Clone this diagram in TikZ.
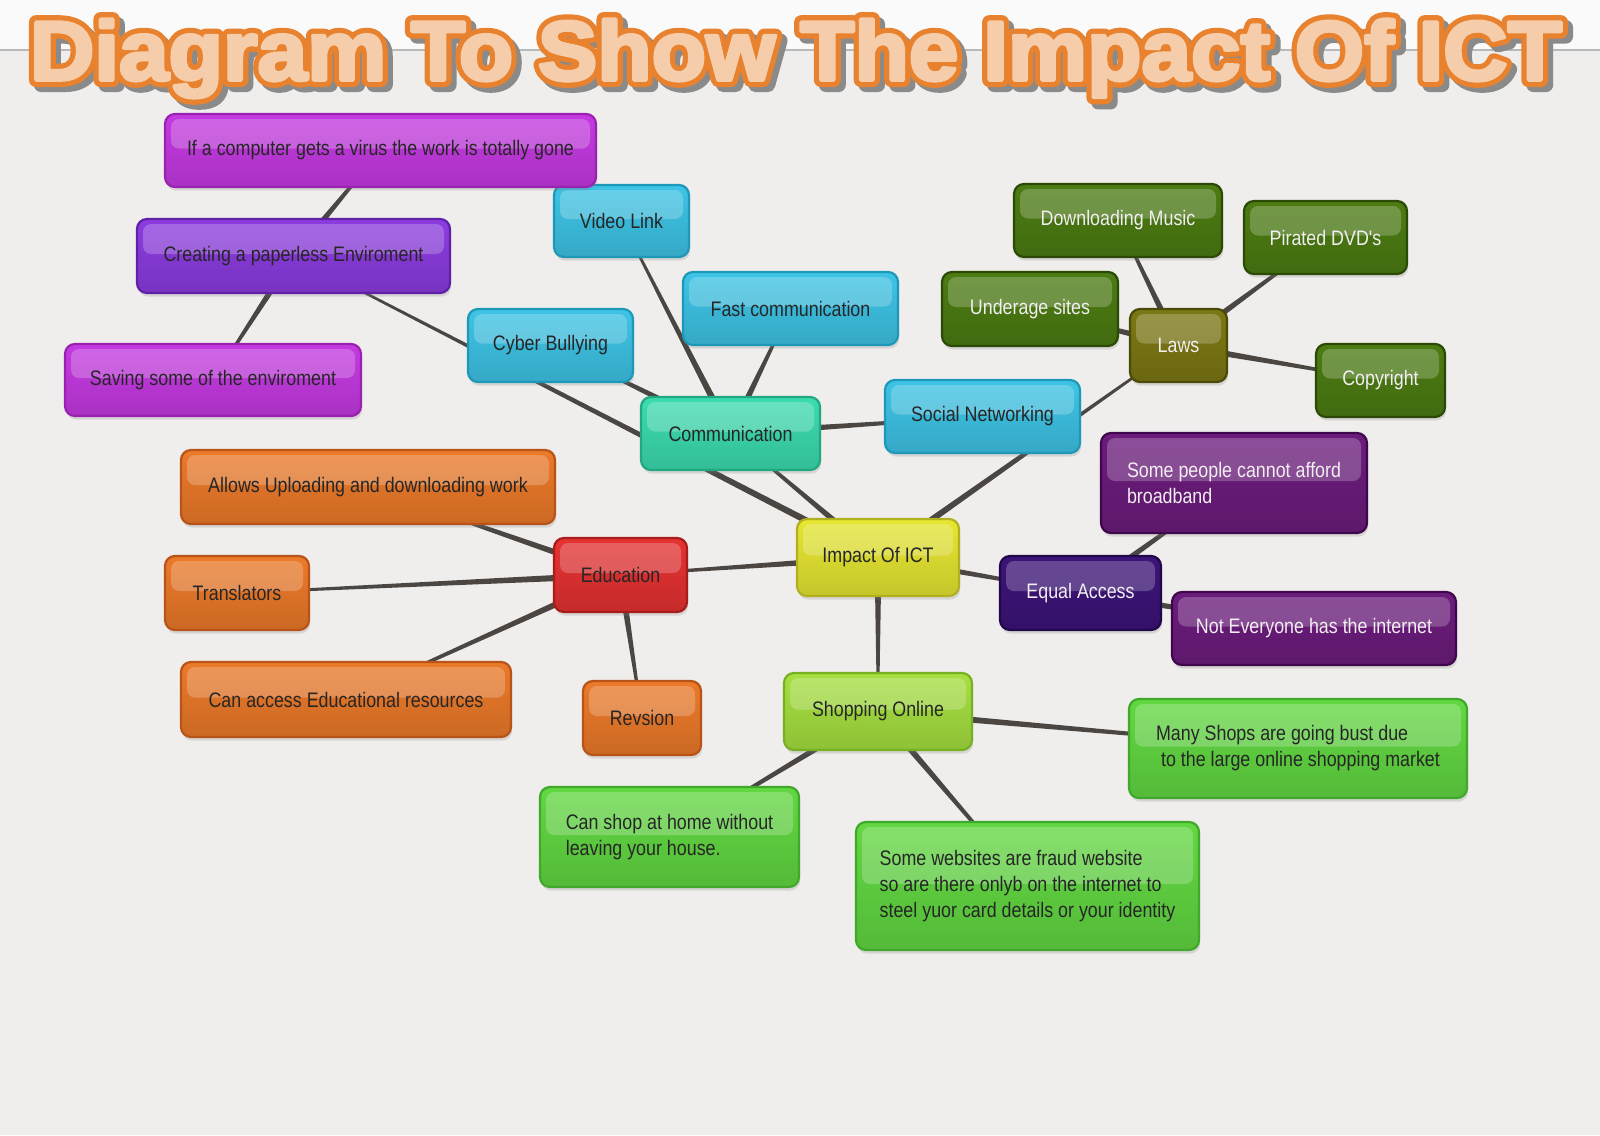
\documentclass[tikz,border=0pt]{standalone}
\usepackage{fontspec}
\usepackage{xcolor}
\usepackage{tikz}
\usetikzlibrary{calc, shadows, backgrounds}
\newfontfamily\nodefont{Liberation Sans}[FakeStretch=0.85]
\newfontfamily\titlefont{Liberation Sans}[FakeStretch=1.06]
\definecolor{paper}{HTML}{EFEEEC}
\definecolor{band}{HTML}{FAFAFA}
\definecolor{link}{HTML}{4B4642}
\definecolor{txtdark}{HTML}{262626}
\definecolor{txtlight}{HTML}{F2EEF2}
\definecolor{mag}{HTML}{C53AE2}
\definecolor{magline}{HTML}{9A22B0}
\definecolor{violet}{HTML}{8C3CE0}
\definecolor{violetline}{HTML}{6020A8}
\definecolor{cyan}{HTML}{3EC4E6}
\definecolor{cyanline}{HTML}{1E98B8}
\definecolor{teal}{HTML}{3CDCB0}
\definecolor{tealline}{HTML}{20A880}
\definecolor{dgreen}{HTML}{4C7C12}
\definecolor{dgreenline}{HTML}{2A4A06}
\definecolor{olive}{HTML}{7C7814}
\definecolor{oliveline}{HTML}{4C4A08}
\definecolor{dpurple}{HTML}{6C1C7C}
\definecolor{dpurpleline}{HTML}{40084C}
\definecolor{indigo}{HTML}{3C1478}
\definecolor{indigoline}{HTML}{20084A}
\definecolor{yell}{HTML}{E6E632}
\definecolor{yellline}{HTML}{B0B020}
\definecolor{orng}{HTML}{EC7A2A}
\definecolor{orngline}{HTML}{B85418}
\definecolor{red}{HTML}{E63232}
\definecolor{redline}{HTML}{A81C1C}
\definecolor{lime}{HTML}{A6E040}
\definecolor{limeline}{HTML}{78B024}
\definecolor{grn}{HTML}{62D842}
\definecolor{grnline}{HTML}{40A82A}
\definecolor{ttlfill}{HTML}{F6CDAA}
\definecolor{ttlorange}{HTML}{E8822E}
\definecolor{ttlshadow}{HTML}{8A8A8A}
% tapered branch, thick at the parent, thin at the child
\newcommand{\branch}[2]{\fill[link] ($(#1)!1.75pt!90:(#2)$) -- ($(#2)!0.5pt!-90:(#1)$)
  -- ($(#2)!0.5pt!90:(#1)$) -- ($(#1)!1.75pt!-90:(#2)$) -- cycle;}
% text filled and stroked: #1 stroke rgb, #2 stroke width (bp)
\newcommand{\outlined}[3]{\special{pdf:literal direct 1 j #2 w #1 RG 2 Tr}#3\special{pdf:literal direct 0 Tr}}
\newcommand{\ttltext}{Diagram To Show The Impact Of ICT}

\begin{document}
\begin{tikzpicture}[x=0.5pt,y=-0.5pt,
  bub/.style n args={3}{rounded corners=5pt,line width=1.1pt,top color=#1,bottom color=#1!86!black,
              draw=#2,text=#3,inner xsep=10pt,align=left,
              font=\nodefont\fontsize{10.5}{13}\selectfont,
              drop shadow={opacity=0.22,shadow xshift=0.6pt,shadow yshift=-1.8pt},
              path picture={\fill[white,opacity=0.22,rounded corners=4pt]
                ([shift={(3pt,-2.5pt)}]path picture bounding box.north west) rectangle
                ([shift={(-3pt,1pt)}]path picture bounding box.east);}},
  magbox/.style={bub={mag}{magline}{txtdark}},
  violetbox/.style={bub={violet}{violetline}{txtdark}},
  cyanbox/.style={bub={cyan}{cyanline}{txtdark}},
  tealbox/.style={bub={teal}{tealline}{txtdark}},
  dgreenbox/.style={bub={dgreen}{dgreenline}{txtlight}},
  olivebox/.style={bub={olive}{oliveline}{txtlight}},
  dpurplebox/.style={bub={dpurple}{dpurpleline}{txtlight}},
  indigobox/.style={bub={indigo}{indigoline}{txtlight}},
  yellbox/.style={bub={yell}{yellline}{txtdark}},
  orngbox/.style={bub={orng}{orngline}{txtdark}},
  redbox/.style={bub={red}{redline}{txtdark}},
  limebox/.style={bub={lime}{limeline}{txtdark}},
  grnbox/.style={bub={grn}{grnline}{txtdark}},
  ttl/.style={font=\titlefont\bfseries\fontsize{42}{46}\selectfont,inner sep=0pt,anchor=base}
]
\useasboundingbox (0,0) rectangle (1600,1135);

% hub
\node[yellbox,minimum width=81pt,minimum height=38.5pt]    (impact)   at (878,557.5)  {Impact Of ICT};
% communication
\node[tealbox,minimum width=89.5pt,minimum height=36.5pt]  (comm)     at (730.5,433.5) {Communication};
\node[cyanbox,minimum width=67.5pt,minimum height=36pt]    (video)    at (621.5,221)  {Video Link};
\node[cyanbox,minimum width=107.5pt,minimum height=36.5pt] (fast)     at (790.5,308.5) {Fast communication};
\node[cyanbox,minimum width=82.5pt,minimum height=36.5pt]  (cyber)    at (550.5,345.5) {Cyber Bullying};
\node[cyanbox,minimum width=97.5pt,minimum height=36.5pt]  (social)   at (982.5,416.5) {Social Networking};
% paperless
\node[violetbox,minimum width=156.5pt,minimum height=37pt] (paperless) at (293.5,256)  {Creating a paperless Enviroment};
\node[magbox,minimum width=215.5pt,minimum height=36.5pt]  (virus)    at (380.5,150.5) {If a computer gets a virus the work is totally gone};
\node[magbox,minimum width=148pt,minimum height=36pt]      (saving)   at (213,380)    {Saving some of the enviroment};
% laws
\node[olivebox,minimum width=48.5pt,minimum height=36.5pt] (laws)     at (1178.5,345.5) {Laws};
\node[dgreenbox,minimum width=104pt,minimum height=36.5pt] (music)    at (1118,220.5) {Downloading Music};
\node[dgreenbox,minimum width=81.5pt,minimum height=36.5pt] (pirated) at (1325.5,237.5) {Pirated DVD's};
\node[dgreenbox,minimum width=88pt,minimum height=37pt]    (underage) at (1030,309)   {Underage sites};
\node[dgreenbox,minimum width=64.5pt,minimum height=36.5pt] (copy)    at (1380.5,380.5) {Copyright};
% equal access
\node[indigobox,minimum width=80.5pt,minimum height=37pt]  (equal)    at (1080.5,593) {Equal Access};
\node[dpurplebox,minimum width=133pt,minimum height=50pt]  (afford)   at (1234,483)   {Some people cannot afford\\broadband};
\node[dpurplebox,minimum width=142pt,minimum height=36.5pt] (notall)  at (1314,628.5) {Not Everyone has the internet};
% education
\node[redbox,minimum width=66.5pt,minimum height=37pt]     (edu)      at (620.5,575)  {Education};
\node[orngbox,minimum width=187pt,minimum height=37pt]     (upload)   at (368,487)    {Allows Uploading and downloading work};
\node[orngbox,minimum width=72pt,minimum height=37pt]      (transl)   at (237,593)    {Translators};
\node[orngbox,minimum width=165pt,minimum height=37.5pt]   (access)   at (346,699.5)  {Can access Educational resources};
\node[orngbox,minimum width=59pt,minimum height=37pt]      (revsion)  at (642,718)    {Revsion};
% shopping
\node[limebox,minimum width=94pt,minimum height=38.5pt]    (shop)     at (878,711.5)  {Shopping Online};
\node[grnbox,minimum width=169pt,minimum height=49.5pt]    (bust)     at (1298,748.5) {Many Shops are going bust due\\\ to the large online shopping market};
\node[grnbox,minimum width=129.5pt,minimum height=50pt]    (home)     at (669.5,837)  {Can shop at home without\\leaving your house.};
\node[grnbox,minimum width=171.5pt,minimum height=64pt]    (fraud)    at (1027.5,886) {Some websites are fraud website\\so are there onlyb on the internet to\\steel yuor card details or your identity};

% title: shadow, orange rim, peach face
\coordinate (ttlc) at (796,80);
\node[ttl,text=ttlshadow] (ttlsh) at ($(ttlc)+(2.5pt,-2.5pt)$) {\outlined{0.54 0.54 0.54}{7}{\ttltext}};
\node[ttl,text=ttlorange] (ttlrim) at (ttlc) {\outlined{0.91 0.51 0.18}{7}{\ttltext}};
\node[ttl,text=ttlfill]   (title) at (ttlc) {\outlined{0.965 0.804 0.667}{1.8}{\ttltext}};

\begin{scope}[on background layer]
\fill[paper] (0,0) rectangle (1600,1135);
\fill[band] (0,0) rectangle (1600,50);
\draw[gray!55,line width=0.8pt] (0,50) -- (1600,50);
\branch{impact}{comm}
\branch{impact}{paperless}
\branch{impact}{laws}
\branch{impact}{equal}
\branch{impact}{edu}
\branch{impact}{shop}
\branch{comm}{video}
\branch{comm}{fast}
\branch{comm}{cyber}
\branch{comm}{social}
\branch{paperless}{virus}
\branch{paperless}{saving}
\branch{laws}{music}
\branch{laws}{pirated}
\branch{laws}{underage}
\branch{laws}{copy}
\branch{equal}{afford}
\branch{equal}{notall}
\branch{edu}{upload}
\branch{edu}{transl}
\branch{edu}{access}
\branch{edu}{revsion}
\branch{shop}{bust}
\branch{shop}{home}
\branch{shop}{fraud}
\end{scope}
\end{tikzpicture}
\end{document}
